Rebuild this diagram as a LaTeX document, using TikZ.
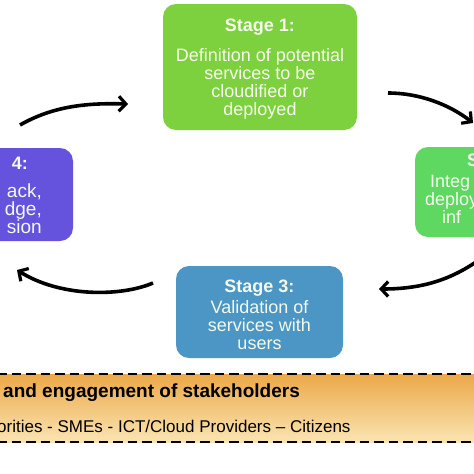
\documentclass[tikz,border=0pt]{standalone}
\usepackage{fontspec}
\setmainfont{Liberation Sans}
\usepackage{tikz}
\usetikzlibrary{arrows.meta}
\definecolor{stageOne}{RGB}{126,209,62}
\definecolor{stageTwo}{RGB}{94,216,96}
\definecolor{stageThree}{RGB}{75,150,196}
\definecolor{stageFour}{RGB}{101,83,222}
\definecolor{stageText}{RGB}{244,250,236}
\definecolor{bandTop}{RGB}{236,168,72}
\definecolor{bandBottom}{RGB}{250,228,178}
\tikzset{
  stage box/.style={rounded corners=13pt,inner sep=0pt},
  stage text/.style={text=stageText,font=\fontsize{18}{18}\selectfont,inner sep=0pt},
  stage head/.style={text=stageText,font=\bfseries\fontsize{18}{19}\selectfont,inner sep=0pt},
  cycle arrow/.style={line width=3.6pt,-{Straight Barb[length=7pt,width=15pt,line width=3.2pt]}},
}

\begin{document}
\begin{tikzpicture}[x=1pt,y=-1pt,
  band line/.style={line width=1.6pt,dash pattern=on 9.5pt off 5pt},
  band text/.style={anchor=west,inner sep=0pt,font=\fontsize{17}{19}\selectfont},
]
\useasboundingbox (0,0) rectangle (474,474);
\clip (0,0) rectangle (474,474);
% stakeholder band
\shade[top color=bandTop,bottom color=bandBottom] (-5,374) rectangle (480,442);
\draw[band line] (-3,374) -- (480,374);
\draw[band line] (-3,442) -- (480,442);
\node[band text,font=\bfseries\fontsize{19}{21}\selectfont] (bandhead) at (3,393) {and engagement of stakeholders};
\node[band text] (bandlist) at (-3,426) {orities - SMEs - ICT/Cloud Providers – Citizens};
% stage 1
\node[stage box,fill=stageOne,minimum width=194pt,minimum height=126pt] (s1) at (260,67) {};
\node[stage head] (s1h) at (260,27) {Stage 1:};
\node[stage text,align=center,anchor=north] (s1t) at (260,48) {Definition of potential\\services to be\\cloudified or\\deployed};
% stage 2
\node[stage box,fill=stageTwo,minimum width=150pt,minimum height=90pt] (s2) at (490,192) {};
\node[stage head,anchor=west] (s2h) at (467,160) {S};
\node[stage text,align=left,anchor=north west] (s2t) at (425,175) {\hspace{5pt}Integ\\deploy\\\hspace{17pt}inf};
% stage 3
\node[stage box,fill=stageThree,minimum width=167pt,minimum height=92pt] (s3) at (259.5,312) {};
\node[stage head] (s3h) at (259.5,288) {Stage 3:};
\node[stage text,align=center,anchor=north] (s3t) at (259.5,300) {Validation of\\services with\\users};
% stage 4
\node[stage box,fill=stageFour,minimum width=150pt,minimum height=93pt] (s4) at (-2,194.5) {};
\node[stage head,anchor=east] (s4h) at (28,163) {4:};
\node[stage text,align=right,anchor=north east,font=\fontsize{19}{18}\selectfont] (s4t) at (42,184) {ack,\\dge,\\sion};
% cycle arrows
\coordinate (a1s) at (20,125);
\coordinate (a1e) at (128,104);
\coordinate (a2s) at (388,93);
\coordinate (a2e) at (473,123);
\coordinate (a3s) at (476,262);
\coordinate (a3e) at (379,289);
\coordinate (a4s) at (153,283);
\coordinate (a4e) at (17,270);
\draw[cycle arrow] (a1s) .. controls (55,105) and (90,103) .. (a1e);
\draw[cycle arrow] (a2s) .. controls (420,93) and (450,105) .. (a2e);
\draw[cycle arrow] (a3s) .. controls (445,283) and (415,289) .. (a3e);
\draw[cycle arrow] (a4s) .. controls (120,297) and (60,297) .. (a4e);
\end{tikzpicture}
\end{document}
